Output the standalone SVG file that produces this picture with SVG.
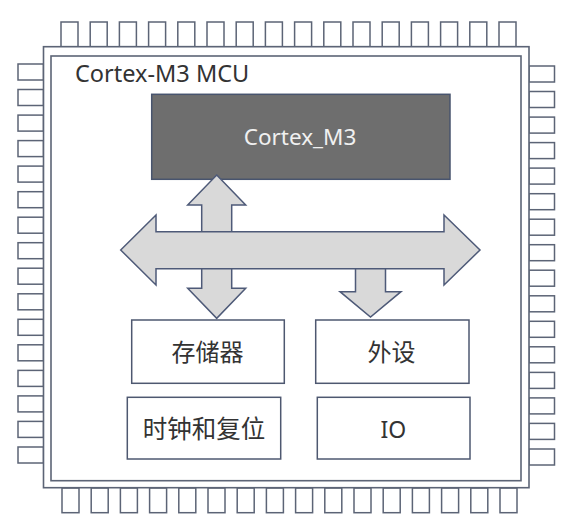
<svg xmlns="http://www.w3.org/2000/svg" xmlns:xlink="http://www.w3.org/1999/xlink" width="567" height="519" viewBox="0 0 567 519">
<style>
.pin{fill:#fff;stroke:#5c6476;stroke-width:1.5}
.chip{fill:#fff;stroke:#5c6476;stroke-width:1.6}
.box{fill:#fff;stroke:#4e5870;stroke-width:1.5}
.core{fill:#6e6e6e;stroke:#48546e;stroke-width:1.5}
.arrow{fill:#d9d9d9;stroke:#4e5a78;stroke-width:1.5;stroke-linejoin:miter}
.lbl{font-family:"Noto Sans","Liberation Sans","Noto Sans CJK SC",sans-serif;fill:#333;text-anchor:middle}
.cjk{font-family:"Noto Sans CJK SC","Noto Sans",sans-serif;fill:#333;text-anchor:middle}
</style>
<defs>
<rect id="ph" class="pin" width="17" height="24.7"/>
<rect id="pv" class="pin" width="25.5" height="16"/>
</defs>
<g id="chip">
<g id="pins-top">
<use href="#ph" x="61" y="22"/><use href="#ph" x="90.2" y="22"/><use href="#ph" x="119.4" y="22"/><use href="#ph" x="148.6" y="22"/>
<use href="#ph" x="177.8" y="22"/><use href="#ph" x="207" y="22"/><use href="#ph" x="236.2" y="22"/><use href="#ph" x="265.4" y="22"/>
<use href="#ph" x="294.6" y="22"/><use href="#ph" x="323.8" y="22"/><use href="#ph" x="353" y="22"/><use href="#ph" x="382.2" y="22"/>
<use href="#ph" x="411.4" y="22"/><use href="#ph" x="440.6" y="22"/><use href="#ph" x="469.8" y="22"/><use href="#ph" x="499" y="22"/>
</g>
<g id="pins-bottom">
<use href="#ph" x="62" y="488"/><use href="#ph" x="91.2" y="488"/><use href="#ph" x="120.4" y="488"/><use href="#ph" x="149.6" y="488"/>
<use href="#ph" x="178.8" y="488"/><use href="#ph" x="208" y="488"/><use href="#ph" x="237.2" y="488"/><use href="#ph" x="266.4" y="488"/>
<use href="#ph" x="295.6" y="488"/><use href="#ph" x="324.8" y="488"/><use href="#ph" x="354" y="488"/><use href="#ph" x="383.2" y="488"/>
<use href="#ph" x="412.4" y="488"/><use href="#ph" x="441.6" y="488"/><use href="#ph" x="470.8" y="488"/><use href="#ph" x="500" y="488"/>
</g>
<g id="pins-left">
<use href="#pv" x="18" y="64"/><use href="#pv" x="18" y="89.5"/><use href="#pv" x="18" y="115.1"/><use href="#pv" x="18" y="140.6"/>
<use href="#pv" x="18" y="166.1"/><use href="#pv" x="18" y="191.7"/><use href="#pv" x="18" y="217.2"/><use href="#pv" x="18" y="242.7"/>
<use href="#pv" x="18" y="268.2"/><use href="#pv" x="18" y="293.8"/><use href="#pv" x="18" y="319.3"/><use href="#pv" x="18" y="344.8"/>
<use href="#pv" x="18" y="370.4"/><use href="#pv" x="18" y="395.9"/><use href="#pv" x="18" y="421.4"/><use href="#pv" x="18" y="447"/>
</g>
<g id="pins-right">
<use href="#pv" x="529" y="66"/><use href="#pv" x="529" y="91.5"/><use href="#pv" x="529" y="117.1"/><use href="#pv" x="529" y="142.6"/>
<use href="#pv" x="529" y="168.1"/><use href="#pv" x="529" y="193.7"/><use href="#pv" x="529" y="219.2"/><use href="#pv" x="529" y="244.7"/>
<use href="#pv" x="529" y="270.2"/><use href="#pv" x="529" y="295.8"/><use href="#pv" x="529" y="321.3"/><use href="#pv" x="529" y="346.8"/>
<use href="#pv" x="529" y="372.4"/><use href="#pv" x="529" y="397.9"/><use href="#pv" x="529" y="423.4"/><use href="#pv" x="529" y="449"/>
</g>
<rect class="chip" x="43.5" y="46.7" width="485.5" height="441"/>
<rect class="chip" x="51" y="56" width="470" height="424.7"/>
<text class="lbl" x="75" y="81.5" font-size="23.5" style="text-anchor:start">Cortex-M3 MCU</text>
</g>
<g id="cortex-m3">
<rect class="core" x="151.7" y="94.3" width="298.3" height="85"/>
<text class="lbl" x="300" y="145" font-size="22.5" style="fill:#f0f0f0">Cortex_M3</text>
</g>
<g id="connectors">
<polygon class="arrow" points="216.7,175 245.7,205 231.7,205 231.7,288.3 245.7,288.3 216.7,318.3 187.7,288.3 201.7,288.3 201.7,205 187.7,205"/>
<polygon class="arrow" points="370.5,250 385.5,250 385.5,291.7 401,291.7 370.5,317 340,291.7 355.5,291.7 355.5,250"/>
<polygon class="arrow" points="120.7,250 156,215 156,231.7 444,231.7 444,215 480,250 444,285 444,268.8 156,268.8 156,285"/>
</g>
<g id="memory">
<rect class="box" x="131.7" y="320" width="152.6" height="63.3"/>
<text class="cjk" x="207.5" y="361" font-size="24">存储器</text>
</g>
<g id="peripheral">
<rect class="box" x="315.7" y="320" width="153.3" height="63.3"/>
<text class="cjk" x="391.5" y="361" font-size="24">外设</text>
</g>
<g id="clock-reset">
<rect class="box" x="127.3" y="397.3" width="153.4" height="61.7"/>
<text class="cjk" x="204" y="437.5" font-size="24.5">时钟和复位</text>
</g>
<g id="io">
<rect class="box" x="317.3" y="397.3" width="152.7" height="61.7"/>
<text class="lbl" x="393.3" y="437.7" font-size="23">IO</text>
</g>
</svg>
